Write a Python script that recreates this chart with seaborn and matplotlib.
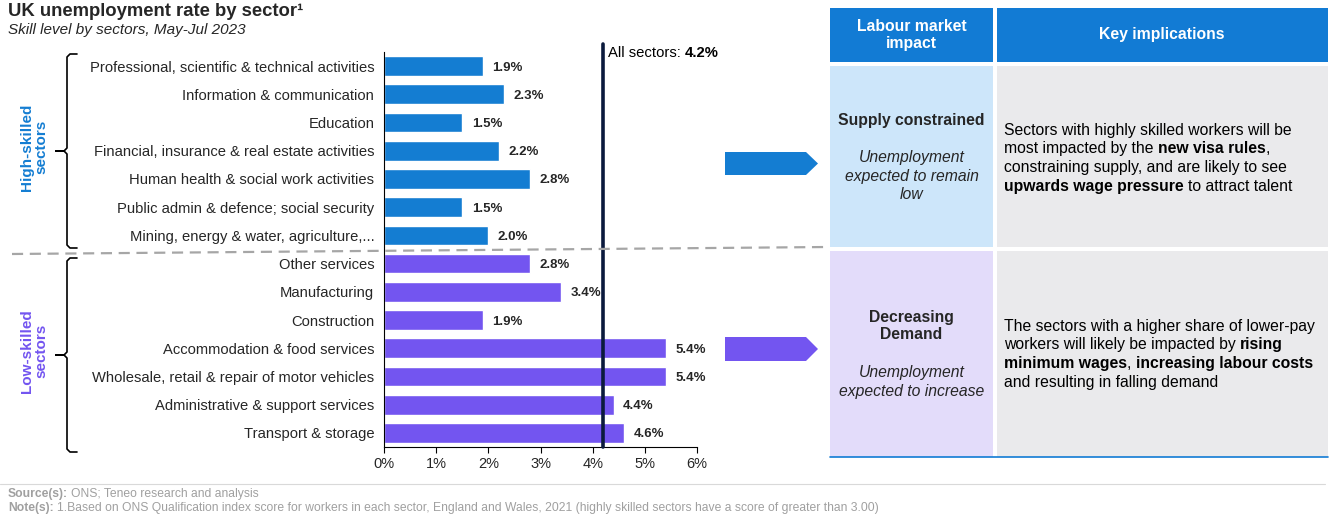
import numpy as np
import pandas as pd
import matplotlib.pyplot as plt
import seaborn as sns
from matplotlib.patches import Rectangle, Polygon
from matplotlib.lines import Line2D

sns.set_style('white')
plt.rcParams['font.family'] = ['Liberation Sans', 'DejaVu Sans']

high_sectors = ['Professional, scientific & technical activities', 'Information & communication', 'Education',
                'Financial, insurance & real estate activities', 'Human health & social work activities',
                'Public admin & defence; social security', 'Mining, energy & water, agriculture,...']
high_values = [1.9, 2.3, 1.5, 2.2, 2.8, 1.5, 2.0]
low_sectors = ['Other services', 'Manufacturing', 'Construction', 'Accommodation & food services',
               'Wholesale, retail & repair of motor vehicles', 'Administrative & support services',
               'Transport & storage']
low_values = [2.8, 3.4, 1.9, 5.4, 5.4, 4.4, 4.6]
all_sectors = 4.2
x_ticks = [0, 1, 2, 3, 4, 5, 6]

BLUE = '#147dd2'
PURPLE = '#7355f0'
NAVY = '#0b1a3d'
W, H = 1340, 519
PS = 11.3  # panel text size

df = pd.DataFrame({
    'sector': high_sectors + low_sectors,
    'rate': high_values + low_values,
    'group': ['High'] * len(high_sectors) + ['Low'] * len(low_sectors),
})

fig = plt.figure(figsize=(13.4, 5.19), dpi=100)
ax = fig.add_axes([384 / W, 1 - 447 / H, 313 / W, 395 / H])


def fx(x):
    return x / W


def fy(y):
    return 1 - y / H


sns.barplot(data=df, y='sector', x='rate', hue='group', palette={'High': BLUE, 'Low': PURPLE},
            dodge=False, width=0.7, legend=False, saturation=1, ax=ax)
ax.set_xlim(0, 6)
ax.set_ylim(len(df) - 0.5, -0.5)
ax.set_xticks(x_ticks)
ax.set_xticklabels([f'{t}%' for t in x_ticks], fontsize=10.5)
ax.set_xlabel('')
ax.set_ylabel('')
ax.tick_params(axis='y', labelsize=10.6, length=0, pad=7)
ax.set_yticks(np.arange(-0.5, len(df), 1), minor=True)
ax.tick_params(axis='y', which='minor', length=4, direction='out', color='black')
ax.tick_params(axis='x', length=4, direction='out', color='black', bottom=True, pad=3)
for s in ['top', 'right']:
    ax.spines[s].set_visible(False)
for s in ['left', 'bottom']:
    ax.spines[s].set_color('black')
    ax.spines[s].set_linewidth(0.8)

for i, v in enumerate(df['rate']):
    ax.text(v + 0.18, i, f'{v:.1f}%', va='center_baseline', ha='left', fontsize=9.5, fontweight='bold')

ax.plot([all_sectors, all_sectors], [len(df) - 0.5, -0.78], color=NAVY, lw=2.6, clip_on=False, zorder=5)

renderer = fig.canvas.get_renderer()


def width_of(s, size, bold=False, style='normal'):
    t = fig.text(0, 0, s, fontsize=size, fontweight='bold' if bold else 'normal', fontstyle=style)
    w = t.get_window_extent(renderer).width
    t.remove()
    return w


def rich(x, y, runs, size, color='black'):
    sp = width_of('a a', size) - width_of('aa', size)
    for k, (s, bold) in enumerate(runs):
        if k > 0 and runs[k - 1][0].endswith(' '):
            x += sp
        s2 = s.strip()
        t = fig.text(fx(x), fy(y), s2, fontsize=size, fontweight='bold' if bold else 'normal',
                     color=color, va='center', ha='left')
        x += t.get_window_extent(renderer).width


rich(608, 53, [('All sectors: ', False), ('4.2%', True)], 10.7)

# title
fig.text(fx(8), fy(12), 'UK unemployment rate by sector\u00b9', fontsize=13.3, fontweight='bold', va='center')
fig.text(fx(8), fy(30), 'Skill level by sectors, May-Jul 2023', fontsize=11, fontstyle='italic', va='center')


# braces
def brace(y0, y1, color='black'):
    xm = 67
    ym = (y0 + y1) / 2
    pts = [(77, y0), (70, y0), (xm, y0 + 3), (xm, ym - 3), (xm - 3, ym), (xm - 11, ym), (xm - 3, ym),
           (xm, ym + 3), (xm, y1 - 3), (70, y1), (77, y1)]
    fig.add_artist(Line2D([fx(p[0]) for p in pts], [fy(p[1]) for p in pts], color=color, lw=1.2))


brace(54, 248)
brace(258, 452)
fig.text(fx(34), fy(147), 'High-skilled\nsectors', rotation=90, color=BLUE, fontsize=11, fontweight='bold',
         ha='center', va='center', linespacing=1.05)
fig.text(fx(34), fy(351), 'Low-skilled\nsectors', rotation=90, color=PURPLE, fontsize=11, fontweight='bold',
         ha='center', va='center', linespacing=1.05)

# dashed separator
fig.add_artist(Line2D([fx(12), fx(828)], [fy(254), fy(247)], color='#a6a6a6', lw=1.6, ls=(0, (5, 3))))


# right panels
def box(x0, y0, x1, y1, color):
    fig.add_artist(Rectangle((fx(x0), fy(y1)), (x1 - x0) / W, (y1 - y0) / H, transform=fig.transFigure,
                             facecolor=color, edgecolor='none', zorder=0))


box(830, 8, 993, 62, '#127bd4')
box(997, 8, 1328, 62, '#127bd4')
box(830, 66, 993, 247, '#cde6fa')
box(997, 66, 1328, 247, '#eaeaec')
box(830, 251, 993, 457, '#e3dcfa')
box(997, 251, 1328, 457, '#eaeaec')
fig.add_artist(Line2D([fx(830), fx(1328)], [fy(457), fy(457)], color='#127bd4', lw=1.2))

fig.text(fx(911.5), fy(35), 'Labour market\nimpact', color='white', fontsize=PS, fontweight='bold',
         ha='center', va='center', linespacing=1.15)
fig.text(fx(1162), fy(35), 'Key implications', color='white', fontsize=PS, fontweight='bold',
         ha='center', va='center')

fig.text(fx(911.5), fy(120), 'Supply constrained', fontsize=PS, fontweight='bold', ha='center', va='center')
fig.text(fx(911.5), fy(176), 'Unemployment\nexpected to remain\nlow', fontsize=PS, fontstyle='italic',
         ha='center', va='center', linespacing=1.3)
fig.text(fx(911.5), fy(326), 'Decreasing\nDemand', fontsize=PS, fontweight='bold', ha='center', va='center',
         linespacing=1.15)
fig.text(fx(911.5), fy(382), 'Unemployment\nexpected to increase', fontsize=PS, fontstyle='italic',
         ha='center', va='center', linespacing=1.3)

lines_top = [
    [('Sectors with highly skilled workers will be', False)],
    [('most impacted by the ', False), ('new visa rules', True), (',', False)],
    [('constraining supply, and are likely to see', False)],
    [('upwards wage pressure ', True), ('to attract talent', False)],
]
lines_bot = [
    [('The sectors with a higher share of lower-pay', False)],
    [('workers will likely be impacted by ', False), ('rising', True)],
    [('minimum wages', True), (', ', False), ('increasing labour costs', True)],
    [('and resulting in falling demand', False)],
]
for k, runs in enumerate(lines_top):
    rich(1004, 130 + k * 18.7, runs, PS)
for k, runs in enumerate(lines_bot):
    rich(1004, 326 + k * 18.7, runs, PS)


def arrow(y0, y1, color):
    ym = (y0 + y1) / 2
    pts = [(725, y0), (806, y0), (818, ym), (806, y1), (725, y1)]
    fig.add_artist(Polygon([(fx(p[0]), fy(p[1])) for p in pts], closed=True, transform=fig.transFigure,
                           facecolor=color, edgecolor='none'))


arrow(152, 175, BLUE)
arrow(337, 361, PURPLE)

# footer
FS = 8.75
fig.add_artist(Line2D([fx(0), fx(1325)], [fy(484), fy(484)], color='#d9d9d9', lw=0.8))
grey = '#a0a0a0'
fig.text(fx(8), fy(494), 'Source(s):', fontsize=FS, fontweight='bold', color=grey, va='center')
fig.text(fx(8 + width_of('Source(s):', FS, True) + 3), fy(494), 'ONS; Teneo research and analysis',
         fontsize=FS, color=grey, va='center')
fig.text(fx(8), fy(508), 'Note(s):', fontsize=FS, fontweight='bold', color=grey, va='center')
fig.text(fx(8 + width_of('Note(s):', FS, True) + 3), fy(508),
         '1.Based on ONS Qualification index score for workers in each sector, England and Wales, 2021 '
         '(highly skilled sectors have a score of greater than 3.00)', fontsize=FS, color=grey, va='center')

fig.savefig('out.png', dpi=100)
